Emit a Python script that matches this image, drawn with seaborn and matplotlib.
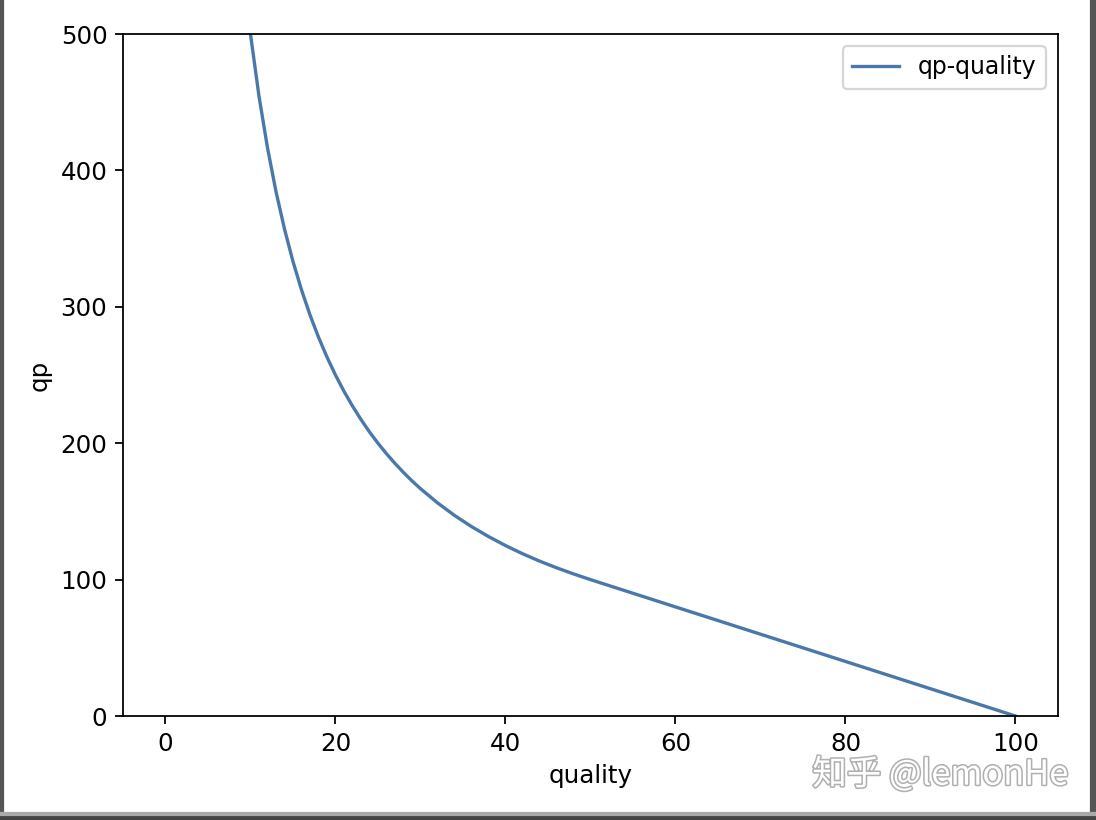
import matplotlib
matplotlib.use('Agg')
import matplotlib.pyplot as plt
import matplotlib.patheffects as pe
from matplotlib.patches import Rectangle
import pandas as pd
import seaborn as sns

# values
quality = [9, 10, 11, 12, 13, 14, 15, 16, 17, 18, 19, 20, 21, 22, 23, 24, 25,
           26, 27, 28, 29, 30, 32, 34, 36, 38, 40, 42, 44, 46, 48, 50,
           60, 70, 80, 90, 100]
qp = [555.6, 500.0, 454.5, 416.7, 384.6, 357.1, 333.3, 312.5, 294.1, 277.8,
      263.2, 250.0, 238.1, 227.3, 217.4, 208.3, 200.0, 192.3, 185.2, 178.6,
      172.4, 166.7, 156.3, 147.1, 138.9, 131.6, 125.0, 119.0, 113.6, 108.7,
      104.2, 100.0, 80.0, 60.0, 40.0, 20.0, 0.0]
series_name = 'qp-quality'

df = pd.DataFrame({'quality': quality, 'qp': qp, 'name': series_name})

plt.rcParams['font.size'] = 11
fig = plt.figure(figsize=(6.85, 5.125), dpi=160)
ax = fig.add_axes([0.1122, 0.1268, 0.8531, 0.8317])

sns.lineplot(data=df, x='quality', y='qp', hue='name', palette=['#4a78aa'],
             sort=False, ax=ax, linewidth=1.5)
ax.set_xlim(-5, 105)
ax.set_ylim(0, 500)
ax.set_xlabel('quality')
ax.set_ylabel('qp')
ax.legend(loc='upper right', fontsize=10.6)

# watermark
fig.text(0.975, 0.055, '知乎 @lemonHe', ha='right', va='center', fontsize=15.5,
         color='white', family=['Noto Sans CJK SC', 'DejaVu Sans'],
         path_effects=[pe.withStroke(linewidth=1.4, foreground='#b0b0b0')])

# screenshot frame
fig.patches.append(Rectangle((0, 0), 0.0025, 1, transform=fig.transFigure,
                             color='#555555', zorder=10))
fig.patches.append(Rectangle((0.995, 0), 0.005, 1, transform=fig.transFigure,
                             color='#555555', zorder=10))
fig.patches.append(Rectangle((0, 0), 1, 0.006, transform=fig.transFigure,
                             color='#444444', zorder=10))
fig.patches.append(Rectangle((0, 0.006), 1, 0.003, transform=fig.transFigure,
                             color='#aaaaaa', zorder=10))

fig.savefig('out.png', dpi=160)
